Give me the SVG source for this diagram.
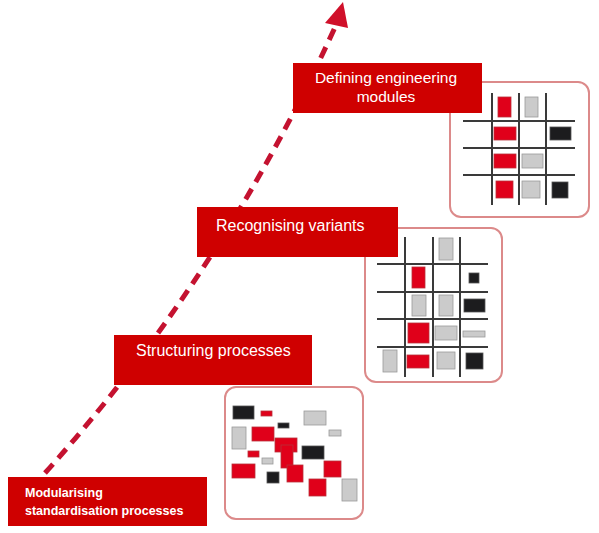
<svg xmlns="http://www.w3.org/2000/svg" width="599" height="533" viewBox="0 0 599 533">
<style>
.panel{fill:#ffffff;stroke:#dc8a8a;stroke-width:2}
.box{fill:#cf0000}
.lbl{fill:#ffffff;font-family:"Liberation Sans",Arial,sans-serif;font-size:16px}
.lblb{fill:#ffffff;font-family:"Liberation Sans",Arial,sans-serif;font-size:12.5px;font-weight:bold}
.r{fill:#e0001a;stroke:#b8303a;stroke-width:0.8}
.k{fill:#1c1c1e;stroke:#555;stroke-width:0.8}
.g{fill:#cbcbcb;stroke:#9a9a9a;stroke-width:0.8}
.grid{stroke:#3a3a3a;stroke-width:2;fill:none}
.arrow{fill:none;stroke:#c41230;stroke-width:5;stroke-dasharray:12 8}
</style>
<rect width="599" height="533" fill="#ffffff"/>

<g id="connectors">
<path class="arrow" d="M45,473 Q223,275 336,25"/>
<polygon points="325,23 348,28 343,2" fill="#d0102a"/>
</g>

<g id="panel1">
<rect class="panel" x="225" y="387" width="138" height="132" rx="11"/>
<rect class="k" x="233" y="406" width="21" height="13"/>
<rect class="r" x="261" y="411" width="11" height="5"/>
<rect class="g" x="304" y="411" width="22" height="14"/>
<rect class="k" x="278" y="423" width="11" height="5"/>
<rect class="g" x="329" y="430" width="12" height="6"/>
<rect class="g" x="232" y="427" width="14" height="22"/>
<rect class="r" x="252" y="427" width="22" height="14"/>
<rect class="r" x="275" y="438" width="22" height="14"/>
<rect class="r" x="281" y="445" width="12" height="23"/>
<rect class="k" x="302" y="446" width="22" height="13"/>
<rect class="r" x="248" y="451" width="11" height="6"/>
<rect class="g" x="262" y="458" width="11" height="6"/>
<rect class="r" x="232" y="464" width="23" height="14"/>
<rect class="r" x="287" y="465" width="16" height="17"/>
<rect class="r" x="324" y="461" width="17" height="16"/>
<rect class="k" x="267" y="472" width="12" height="11"/>
<rect class="r" x="309" y="479" width="17" height="17"/>
<rect class="g" x="342" y="479" width="15" height="22"/>
</g>

<g id="panel2">
<rect class="panel" x="365" y="228" width="137" height="154" rx="11"/>
<path class="grid" d="M405,237V377M433,237V377M460,237V377M377,264H488M377,292H488M377,319H488M377,347H488"/>
<rect class="g" x="439" y="238" width="14" height="22"/>
<rect class="r" x="412" y="267" width="13" height="21"/>
<rect class="k" x="469" y="273" width="10" height="10"/>
<rect class="g" x="412" y="295" width="14" height="21"/>
<rect class="g" x="439" y="295" width="14" height="21"/>
<rect class="k" x="464" y="299" width="21" height="13"/>
<rect class="r" x="408" y="323" width="21" height="20"/>
<rect class="g" x="435" y="326" width="22" height="14"/>
<rect class="g" x="463" y="331" width="22" height="6"/>
<rect class="g" x="383" y="350" width="14" height="22"/>
<rect class="r" x="407" y="355" width="22" height="13"/>
<rect class="g" x="437" y="352" width="18" height="17"/>
<rect class="k" x="466" y="353" width="17" height="16"/>
</g>

<g id="panel3">
<rect class="panel" x="450" y="82" width="139" height="135" rx="11"/>
<path class="grid" d="M492,93V205M519,93V205M546,93V205M463,121H575M463,148H575M463,175H575"/>
<rect class="r" x="498" y="97" width="13" height="20"/>
<rect class="g" x="525" y="97" width="13" height="20"/>
<rect class="r" x="494" y="127" width="22" height="13"/>
<rect class="k" x="550" y="127" width="21" height="13"/>
<rect class="r" x="494" y="154" width="22" height="14"/>
<rect class="g" x="522" y="154" width="21" height="14"/>
<rect class="r" x="496" y="181" width="17" height="17"/>
<rect class="g" x="522" y="181" width="18" height="17"/>
<rect class="k" x="552" y="182" width="16" height="16"/>
</g>

<g id="box-modularising">
<rect class="box" x="8" y="477" width="199" height="49"/>
<text class="lblb" x="25" y="497">Modularising</text>
<text class="lblb" x="25" y="515">standardisation processes</text>
</g>

<g id="box-structuring">
<rect class="box" x="114" y="335" width="198" height="50"/>
<text class="lbl" x="136" y="356">Structuring processes</text>
</g>

<g id="box-recognising">
<rect class="box" x="197" y="207" width="201" height="50"/>
<text class="lbl" x="216" y="231">Recognising variants</text>
</g>

<g id="box-defining">
<rect class="box" x="293" y="63" width="189" height="50"/>
<text class="lbl" x="386" y="83" text-anchor="middle" style="font-size:15.5px">Defining engineering</text>
<text class="lbl" x="386" y="102" text-anchor="middle" style="font-size:15.5px">modules</text>
</g>
</svg>
